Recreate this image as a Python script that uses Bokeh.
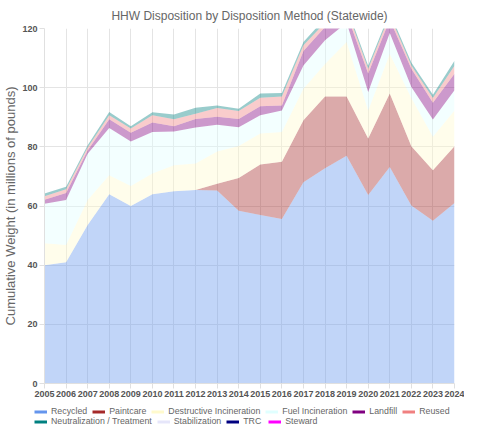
from bokeh.plotting import figure
from bokeh.models import (ColumnDataSource, Range1d, FixedTicker, Legend, LegendItem)
from bokeh.embed import file_html
from bokeh.resources import INLINE

years = ["2005", "2006", "2007", "2008", "2009", "2010", "2011", "2012", "2013", "2014",
         "2015", "2016", "2017", "2018", "2019", "2020", "2021", "2022", "2023", "2024"]
recycled = [40.0, 41.0, 53.6, 64.0, 60.0, 64.0, 65.0, 65.4, 65.2, 58.4,
            57.0, 55.6, 68.0, 72.8, 77.0, 63.7, 73.2, 60.2, 55.0, 61.0]
paintcare = [0, 0, 0, 0, 0, 0, 0, 0, 2.3, 11.1,
             17.0, 19.4, 21.0, 24.2, 20.0, 19.1, 24.8, 20.0, 17.1, 19.2]
destructive = [7.4, 5.8, 8.4, 6.4, 6.8, 7.0, 8.8, 9.0, 10.9, 10.8,
               10.5, 10.0, 10.6, 11.0, 18.4, 9.5, 13.4, 16.3, 11.3, 12.1]
fuel = [13.4, 15.2, 15.7, 16.0, 15.0, 14.0, 11.4, 12.1, 9.1, 6.3,
        6.2, 7.3, 7.9, 8.0, 6.6, 6.2, 7.1, 3.7, 5.8, 6.8]
landfill = [1.3, 2.4, 1.1, 2.9, 3.0, 3.2, 1.8, 2.9, 2.7, 2.8,
            3.0, 1.7, 4.9, 4.5, 3.0, 6.3, 4.5, 6.2, 5.7, 5.6]
reused = [1.2, 1.3, 1.0, 1.4, 1.4, 2.5, 2.3, 1.8, 2.9, 2.7,
          2.9, 3.0, 1.9, 1.5, 1.5, 1.6, 1.5, 1.1, 1.6, 2.7]
neutralization = [0.9, 0.8, 0.7, 1.1, 0.8, 1.0, 1.6, 2.0, 0.9, 0.8,
                  1.4, 1.2, 1.1, 1.5, 1.0, 1.0, 1.0, 1.0, 1.1, 1.7]
stabilization = [0] * 20
trc = [0] * 20
steward = [0] * 20

series_names = ["Recycled", "Paintcare", "Destructive Incineration", "Fuel Incineration",
                "Landfill", "Reused", "Neutralization / Treatment", "Stabilization", "TRC", "Steward"]
series_values = [recycled, paintcare, destructive, fuel, landfill, reused,
                 neutralization, stabilization, trc, steward]
series_colors = ["#6495ed", "#a52a2a", "#fffacd", "#e0ffff", "#800080", "#f08080",
                 "#008080", "#e6e6fa", "#000080", "#ff00ff"]
y_ticks = [0, 20, 40, 60, 80, 100, 120]

FONT = "Liberation Sans"

keys = ["s%d" % i for i in range(len(series_names))]
xs = [int(y) for y in years]
data = {"x": xs}
for k, v in zip(keys, series_values):
    data[k] = v
src = ColumnDataSource(data)

p = figure(width=464, height=403, output_backend="svg", toolbar_location=None,
           x_range=Range1d(2005, 2024), y_range=Range1d(0, 120),
           min_border_left=36, min_border_right=10, min_border_top=27, min_border_bottom=20)

p.varea_stack(stackers=keys, x="x", source=src, color=series_colors, fill_alpha=0.4)

p.title.text = "HHW Disposition by Disposition Method (Statewide)"
p.title.align = "center"
p.title.text_font = FONT
p.title.text_font_size = "12px"
p.title.text_font_style = "normal"
p.title.text_color = "#666666"
p.title.standoff = 12

p.outline_line_color = None
p.xaxis.ticker = FixedTicker(ticks=xs)
p.xaxis.major_label_overrides = {int(y): y for y in years}
p.yaxis.ticker = FixedTicker(ticks=y_ticks)
p.xgrid.ticker = FixedTicker(ticks=xs)
p.ygrid.ticker = FixedTicker(ticks=y_ticks)
for g in (p.xgrid, p.ygrid):
    g.grid_line_color = "#e4e4e4"
    g.grid_line_width = 1

for ax in (p.xaxis, p.yaxis):
    ax.axis_line_color = "#e0e0e0"
    ax.major_tick_line_color = "#e0e0e0"
    ax.minor_tick_line_color = None
    ax.major_tick_out = 5
    ax.major_tick_in = 0
    ax.major_label_text_font = FONT
    ax.major_label_text_font_size = "9px"
    ax.major_label_text_font_style = "bold"
    ax.major_label_text_color = "#555555"
    ax.major_label_standoff = 2

p.yaxis.axis_label = "Cumulative Weight (in millions of pounds)"
p.yaxis.axis_label_text_font = FONT
p.yaxis.axis_label_text_font_size = "13px"
p.yaxis.axis_label_text_font_style = "normal"
p.yaxis.axis_label_text_color = "#666666"
p.yaxis.axis_label_standoff = 1

# legend figure (separate root, no axes, frame = whole figure)
lf = figure(width=464, height=24, output_backend="svg", toolbar_location=None,
            x_range=Range1d(0, 1), y_range=Range1d(0, 1),
            x_axis_location=None, y_axis_location=None,
            min_border=0, min_border_left=0, min_border_right=0,
            min_border_top=0, min_border_bottom=0)
lf.grid.visible = False
lf.outline_line_color = None

items = []
for k, name, col in zip(keys, series_names, series_colors):
    # legend swatch renderer; its data lies outside this small figure's ranges
    r = lf.line(x="x", y=k, source=src, line_color=col, line_width=3)
    items.append(LegendItem(label=name, renderers=[r]))


def make_legend(its, loc):
    lg = Legend(items=its, orientation="horizontal", location=loc)
    lg.label_text_font = FONT
    lg.label_text_font_size = "8.8px"
    lg.label_text_color = "#666666"
    lg.glyph_width = 13
    lg.glyph_height = 9
    lg.label_height = 9
    lg.label_standoff = 4
    lg.spacing = 5
    lg.padding = 0
    lg.margin = 0
    lg.border_line_color = None
    lg.background_fill_alpha = 0
    return lg


lf.add_layout(make_legend(items[:6], (34, 11)))
lf.add_layout(make_legend(items[6:], (34, 1)))

open("out.html", "w").write(file_html([p, lf], INLINE))
